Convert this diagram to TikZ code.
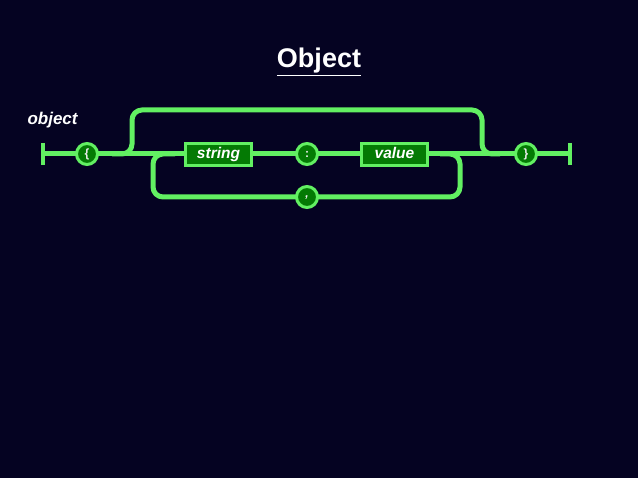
\documentclass[tikz,border=0pt]{standalone}
\usepackage{fontspec}
\setmainfont{Liberation Sans}
\definecolor{bg}{HTML}{050322}
\definecolor{lgreen}{HTML}{62F062}
\definecolor{dgreen}{HTML}{047A04}
\begin{document}
\begin{tikzpicture}[x=1pt,y=-1pt,
  track/.style={draw=lgreen,line width=5pt},
  term/.style={circle,draw=lgreen,line width=3pt,fill=dgreen,minimum size=21pt,inner sep=0pt,text=white!85!gray,font=\bfseries\fontsize{12}{12}\selectfont},
  nterm/.style={rectangle,draw=lgreen,line width=2.5pt,fill=dgreen,minimum width=66pt,minimum height=22pt,inner sep=0pt,text height=11pt,text depth=3pt,text=white,font=\bfseries\itshape\fontsize{15.5}{16}\selectfont},
  bar/.style={draw=lgreen,line width=4.5pt}]
\fill[bg] (0,0) rectangle (638,478);
\useasboundingbox (0,0) rectangle (638,478);
\node[text=white,font=\bfseries\fontsize{27}{29}\selectfont] (title) at (319,62) {\underline{Object}};
\node[text=white,font=\bfseries\itshape\fontsize{17}{19}\selectfont,anchor=west] (lbl) at (24,120) {object};
\coordinate (L) at (43,154);
\coordinate (R) at (570,154);
\draw[bar] (43,143) -- (43,165);
\draw[bar] (570,143) -- (570,165);
\draw[track] (L) -- (R);
\draw[track,rounded corners=10pt] (112,154) -- (132,154) -- (132,110) -- (482,110) -- (482,154) -- (500,154);
\draw[track,rounded corners=10pt] (440,154) -- (460,154) -- (460,197) -- (153,197) -- (153,154) -- (175,154);
\node[term] (lb) at (87,154) {\{};
\node[nterm] (str) at (218.5,154.5) {string};
\node[term] (colon) at (307,154) {:};
\node[nterm] (val) at (394.5,154.5) {value};
\node[term] (rb) at (526,154) {\}};
\node[term] (comma) at (307,197) {\raisebox{-2pt}{\itshape ,}};
\end{tikzpicture}
\end{document}
